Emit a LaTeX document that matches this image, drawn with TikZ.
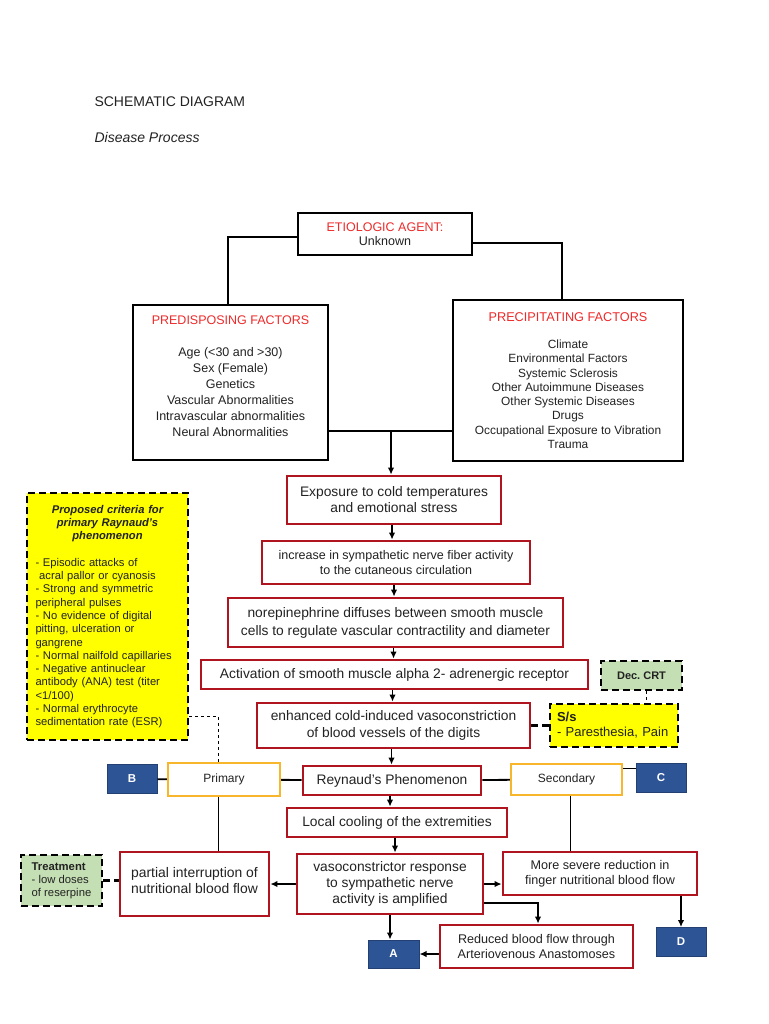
\documentclass[tikz,border=0pt]{standalone}
\usepackage{fontspec}
\setmainfont{Liberation Sans}
\usepackage{tikz}
\usetikzlibrary{arrows.meta}

\definecolor{boxred}{HTML}{B0141E}
\definecolor{titlered}{HTML}{EE2A2A}
\definecolor{boxgold}{HTML}{F8B62D}
\definecolor{boxblue}{HTML}{2D5596}
\definecolor{notegreen}{HTML}{C5DFB4}
\definecolor{noteyellow}{HTML}{FFFF00}
\definecolor{textgray}{HTML}{222222}

\tikzset{
  flowbox/.style={draw, line width=2.8pt, fill=white, align=center, inner sep=0pt, text=textgray},
  redbox/.style={flowbox, draw=boxred, font=\fontsize{13.8}{16}\selectfont},
  factorbox/.style={flowbox, draw=black, line width=2.8pt, font=\fontsize{12.5}{16}\selectfont},
  goldbox/.style={flowbox, draw=boxgold, line width=2.4pt, font=\fontsize{12}{13}\selectfont},
  letterbox/.style={draw=boxblue!75!black, line width=1pt, fill=boxblue, text=white,
    font=\bfseries\fontsize{11.5}{13}\selectfont, minimum width=50pt, minimum height=29pt, inner sep=0pt},
  notebox/.style={draw=black, line width=2.8pt, dash pattern=on 7pt off 4pt, inner sep=0pt, text=textgray},
  arr/.style={-{Latex[length=7pt,width=6.5pt]}, line width=1.6pt},
  link/.style={line width=1.8pt}
}

\begin{document}
\begin{tikzpicture}[x=1pt, y=-1pt]

\useasboundingbox (0,0) rectangle (768,1024);

\node[anchor=base west, font=\fontsize{14}{16}\selectfont, text=textgray] (title) at (91,107) {SCHEMATIC DIAGRAM};
\node[anchor=base west, font=\itshape\fontsize{14}{16}\selectfont, text=textgray] (subtitle) at (91,143) {Disease Process};

\node[factorbox, minimum width=174pt, minimum height=42pt, font=\fontsize{12.5}{14}\selectfont] (etio) at (385,234)
  {\textcolor{titlered}{ETIOLOGIC AGENT:}\\Unknown};
\node[factorbox, minimum width=195pt, minimum height=155pt] (predis) at (230.5,382.5)
  {\textcolor{titlered}{PREDISPOSING FACTORS}\\[16pt]Age (<30 and >30)\\Sex (Female)\\Genetics\\Vascular Abnormalities\\Intravascular abnormalities\\Neural Abnormalities\\[-4pt]};
\node[factorbox, minimum width=230pt, minimum height=161pt, font=\fontsize{11.9}{14.3}\selectfont] (precip) at (568,380.5)
  {\textcolor{titlered}{\fontsize{12.7}{14.3}\selectfont PRECIPITATING FACTORS}\\[13pt]Climate\\Environmental Factors\\Systemic Sclerosis\\Other Autoimmune Diseases\\Other Systemic Diseases\\Drugs\\Occupational Exposure to Vibration\\Trauma};

\node[redbox, minimum width=214pt, minimum height=48pt] (expo) at (394,500) {Exposure to cold temperatures\\and emotional stress};
\node[redbox, minimum width=268pt, minimum height=43pt, font=\fontsize{12.5}{15}\selectfont] (incr) at (396,562.5) {increase in sympathetic nerve fiber activity\\to the cutaneous circulation};
\node[redbox, minimum width=335pt, minimum height=49pt, font=\fontsize{13.8}{18}\selectfont] (nore) at (395.5,622.5) {norepinephrine diffuses between smooth muscle\\cells to regulate vascular contractility and diameter};
\node[redbox, minimum width=387pt, minimum height=29pt] (activ) at (394.5,674.5) {Activation of smooth muscle alpha 2- adrenergic receptor};
\node[redbox, minimum width=273pt, minimum height=45pt, font=\fontsize{13.8}{17}\selectfont] (enh) at (393.5,725.5) {enhanced cold-induced vasoconstriction\\of blood vessels of the digits};
\node[redbox, minimum width=178pt, minimum height=29pt] (reyn) at (392,780.5) {Reynaud's Phenomenon};
\node[redbox, minimum width=220pt, minimum height=29pt] (local) at (397,822.5) {Local cooling of the extremities};
\node[redbox, minimum width=186pt, minimum height=60pt] (vaso) at (390,884) {vasoconstrictor response\\to sympathetic nerve\\activity is amplified};
\node[redbox, minimum width=149pt, minimum height=64pt, font=\fontsize{13.9}{16}\selectfont] (part) at (194.5,884) {partial interruption of\\nutritional blood flow\\[-8pt]};
\node[redbox, minimum width=194pt, minimum height=43pt, font=\fontsize{12.6}{15}\selectfont] (more) at (600,873.5) {More severe reduction in\\finger nutritional blood flow};
\node[redbox, minimum width=193pt, minimum height=43pt, font=\fontsize{12.6}{15}\selectfont] (redu) at (536.5,946.5) {Reduced blood flow through\\Arteriovenous Anastomoses};

\node[goldbox, minimum width=112pt, minimum height=33pt] (prim) at (224,779.5) {\raisebox{3pt}{Primary}};
\node[goldbox, minimum width=111pt, minimum height=31pt] (secd) at (566.5,779.5) {Secondary};

\node[letterbox] (B) at (132,779) {B};
\node[letterbox] (C) at (661,777.5) {C};
\node[letterbox] (D) at (681,942) {D};
\node[letterbox, minimum width=51pt, minimum height=28pt] (A) at (393.5,954) {A};

\node[notebox, fill=noteyellow, minimum width=161pt, minimum height=247pt, text width=144pt, align=left,
  font=\fontsize{11.2}{13.3}\selectfont] (crit) at (107.5,616.5)
  {{\centering\bfseries\itshape Proposed criteria for\\primary Raynaud's\\phenomenon\par}
   \mbox{}\\
   - Episodic attacks of\\
   \ acral pallor or cyanosis\\
   - Strong and symmetric\\peripheral pulses\\
   - No evidence of digital\\pitting, ulceration or\\gangrene\\
   - Normal nailfold capillaries\\
   - Negative antinuclear\\antibody (ANA) test (titer\\<1/100)\\
   - Normal erythrocyte\\sedimentation rate (ESR)};
\node[notebox, fill=notegreen, minimum width=81pt, minimum height=29pt, font=\bfseries\fontsize{11}{13}\selectfont] (dec) at (641.5,675.5) {Dec.\ CRT};
\node[notebox, fill=noteyellow, minimum width=128pt, minimum height=43pt, text width=114pt, align=left,
  font=\fontsize{13}{15}\selectfont] (ss) at (614,725.5) {\textbf{S/s}\\- Paresthesia, Pain};
\node[notebox, fill=notegreen, minimum width=81pt, minimum height=51pt, align=left,
  font=\fontsize{11.3}{13}\selectfont] (treat) at (61.5,880.5) {\textbf{Treatment}\\- low doses\\of reserpine};

\draw[link] ([yshift=-3pt]etio.west) -| ([xshift=-2.5pt]predis.north);
\draw[link] ([yshift=-9pt]etio.east) -| ([xshift=-6pt]precip.north);
\coordinate (join) at (391,431);
\draw[link] (predis.east |- join) -- (precip.west |- join);
\draw[arr] (join) -- (join |- expo.north);

\foreach \a/\b in {expo/incr, incr/nore, nore/activ, activ/enh, enh/reyn, reyn/local, local/vaso}
    \draw[arr] ([xshift=-2pt]\a.south) -- ([xshift=-2pt]\a.south |- \b.north);

\draw[link] (B) -- (prim);
\draw[link] (prim) -- (reyn);
\draw[link] (reyn) -- (secd);
\draw[link] ([yshift=11pt]secd.east) -- ([yshift=11pt]secd.east -| C.west);
\draw[dashed, thin] ([yshift=-99.5pt]crit.east) -| ([xshift=-6pt]prim.north);
\draw[thin] ([xshift=-6pt]prim.south) -- ([xshift=-6pt]prim.south |- part.north);
\draw[thin] ([xshift=3.5pt]secd.south) -- ([xshift=3.5pt]secd.south |- more.north);

\draw[arr] (vaso.west) -- (part.east);
\draw[arr] (vaso.east) -- (vaso.east -| more.west);
\draw[arr] ([yshift=-19pt]vaso.east) -| ([xshift=1.5pt]redu.north);
\draw[arr] (vaso.south) -- (vaso.south |- A.north);
\draw[arr] (A.east -| redu.west) -- (A.east);
\draw[arr] (D.north |- more.south) -- (D.north);

\draw[notebox] (enh.east) -- (ss.west);
\draw[notebox] (treat.east) -- (treat.east -| part.west);
\draw[dashed, thin] ([xshift=4.5pt]dec.south) -- ([xshift=4.5pt]dec.south |- ss.north);

\end{tikzpicture}
\end{document}
